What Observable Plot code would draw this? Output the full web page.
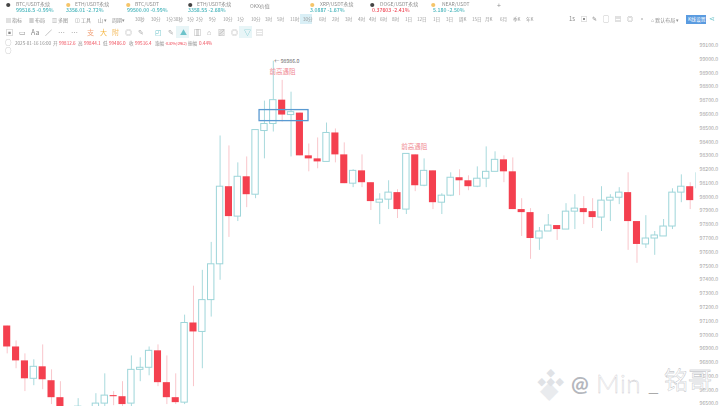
<!DOCTYPE html>
<html>
<head>
<meta charset="utf-8">
<script src="https://cdn.jsdelivr.net/npm/d3@7"></script>
<script src="https://cdn.jsdelivr.net/npm/@observablehq/plot@0.6"></script>
<style>
html,body{margin:0;padding:0;background:#fff;overflow:hidden}
#page{position:relative;width:720px;height:406px;overflow:hidden;font-family:"Noto Sans CJK SC","Noto Sans",sans-serif;filter:blur(0.3px)}
#head{height:40px}
#over{position:absolute;left:0;top:0;width:720px;height:406px;pointer-events:none}
#over span{position:absolute;white-space:nowrap;line-height:1}
#chart svg{display:block}
</style>
</head>
<body>
<div id="page">
  <div id="head"></div>
  <div id="chart"></div>
  <div id="over"></div>
</div>
<script>
const slots  = [0,1,2,3,4,5,6,8,10,11,12,13,14,15,16,17,18,19,20,21,22,23,24,25,26,27,28,29,30,31,32,33,34,35,36,37,38,39,40,41,42,43,44,45,46,47,48,49,50,51,52,53,54,55,56,57,58,59,60,61,62,63,64,65,66,67,68,69,70,71,72,73,74,75,76,77];
const opens  = [97064,96912,96811,96681,96768,96667,96544,96429,96429,96501,96559,96551,96501,96746,96761,96884,96653,96544,96508,97086,97021,97252,97512,98075,97858,98147,98017,98479,98530,98703,98595,98609,98299,98277,98255,98465,98306,98097,98190,98104,97959,97981,98032,97909,98306,98082,98190,97959,98010,98140,98118,98075,98133,98183,98270,98183,97909,97887,97699,97750,97793,97764,97894,97916,97894,97851,97974,97995,98032,97822,97656,97699,97714,97786,98032,98075];
const highs  = [97064,96956,96862,96819,96927,96746,96660,96537,96573,96717,96588,96660,96847,96833,96912,96927,96847,96717,97143,97353,97468,97671,98443,98371,98248,98291,98486,98696,98986,98847,98761,98609,98385,98429,98537,98494,98393,98198,98306,98104,98024,98118,98053,98313,98306,98277,98190,98024,98176,98198,98154,98219,98364,98328,98299,98284,97988,97916,97779,97873,97793,97952,98017,98003,97988,98075,98017,98068,98176,97822,97865,97750,97837,98060,98161,98104];
const lows   = [96862,96754,96588,96631,96602,96494,96407,96393,96393,96465,96486,96450,96465,96660,96703,96624,96494,96494,96494,96624,96754,97129,97396,97707,97822,97923,97988,98277,98472,98544,98291,98299,98183,98205,98255,98248,98097,98068,98068,97902,97800,97909,97844,97873,98039,98075,97909,97873,98003,98010,98046,98068,98068,98183,98104,97909,97714,97548,97613,97750,97685,97764,97764,97800,97772,97750,97822,97945,97613,97519,97627,97577,97714,97764,97959,97909];
const closes = [96912,96811,96681,96768,96674,96544,96450,96479,96501,96559,96551,96494,96746,96761,96884,96653,96544,96508,97086,97021,97252,97512,98075,97858,98147,98017,98486,98530,98703,98595,98616,98299,98277,98255,98465,98306,98097,98190,98104,97967,97981,98032,97909,98313,98082,98190,97959,98010,98140,98118,98075,98133,98183,98270,98183,97909,97887,97699,97750,97793,97764,97894,97916,97887,97851,97974,97995,98032,97822,97656,97699,97721,97786,98032,98075,97974];
const priceTicks = [99100,99000,98900,98800,98700,98600,98500,98400,98300,98200,98100,98000,97900,97800,97700,97600,97500,97400,97300,97200,97100,97000,96900,96800,96700,96600,96500];
const peakLabel = "← 98986.0";
const noteLabels = ["前高遇阻","前高遇阻"];
const noteSlots = [31.05,45.9];
const notePrices = [98905,98364];
const boxSlots = [28.45,33.97];
const boxPrices = [98551,98631];
const partialWick = [77.65,98176,98060];

const candles = slots.map((s,k)=>({s,o:opens[k],h:highs[k],l:lows[k],c:closes[k],up:closes[k]>=opens[k]}));
const up = candles.filter(d=>d.up), down = candles.filter(d=>!d.up);
const notes = noteLabels.map((t,k)=>({t,s:noteSlots[k],p:notePrices[k]}));
const RED="#f4404f",PINK="#f9c6cb",TEAL="#9dd5d9",TEALW="#a9dadd";

const plot = Plot.plot({
  width:720,height:366,marginLeft:0,marginRight:24,marginTop:0,marginBottom:0,
  style:{background:"#fff",fontFamily:'"Noto Sans CJK SC","Noto Sans",sans-serif'},
  x:{domain:[-0.755,77.71],axis:null},
  y:{domain:[96480,99136]},
  marks:[
    Plot.axisY(priceTicks,{anchor:"right",tickSize:0,tickPadding:3,tickFormat:d=>d.toFixed(1),fontSize:5.2,fill:"#a3a3a3",label:null}),
    Plot.ruleX(down,{x:"s",y1:"l",y2:"h",stroke:PINK,strokeWidth:1,clip:true}),
    Plot.ruleX(up,{x:"s",y1:"l",y2:"h",stroke:TEALW,strokeWidth:1,clip:true}),
    Plot.rect(up,{x1:d=>d.s-0.36,x2:d=>d.s+0.36,y1:"o",y2:"c",fill:"#fff",stroke:TEAL,strokeWidth:1,clip:true}),
    Plot.rect(down,{x1:d=>d.s-0.4,x2:d=>d.s+0.4,y1:"o",y2:"c",fill:RED,clip:true}),
    Plot.ruleX([partialWick[0]],{y1:partialWick[2],y2:partialWick[1],stroke:TEALW,clip:true}),
    Plot.rect([{}],{x1:()=>boxSlots[0],x2:()=>boxSlots[1],y1:()=>boxPrices[0],y2:()=>boxPrices[1],fill:"none",stroke:"#5a9ad2",strokeWidth:1.3}),
    Plot.text(notes,{x:"s",y:"p",text:"t",fill:"#f08a93",fontSize:6.5}),
    Plot.text([peakLabel],{x:()=>30,y:()=>98986,text:d=>d,textAnchor:"start",dx:1,fill:"#666",fontSize:5.2})
  ]
});
document.getElementById("chart").appendChild(plot);

const over=document.getElementById("over");
function put(t,x,y,size,color,extra){
  const e=document.createElement("span");e.textContent=t;
  e.style.left=x+"px";e.style.top=y+"px";e.style.fontSize=size+"px";e.style.color=color;
  if(extra)Object.assign(e.style,extra);over.appendChild(e);return e;
}
const GRAY="#8f8f8f",TK="#45b4bb",RD="#ef4a58";
const tickersA=[["BTC/USDT永续",16,"99516.5  -0.99%",16,TK],["ETH/USDT永续",75,"3356.01  -2.72%",66,TK],["BTC/USDT",135,"99500.00  -0.99%",127,TK],["ETH/USDT永续",197,"3358.55  -2.68%",188,TK],["XRP/USDT永续",320,"3.0887  -1.67%",310,TK],["DOGE/USDT永续",380,"0.37603  -2.41%",372,RD],["NEAR/USDT",442,"5.180  -2.50%",433,TK]];
tickersA.forEach(r=>{put(r[0],r[1],0.5,5,GRAY);put(r[2],r[3],6.5,5.2,r[4],{fontWeight:500});});
[[9,"#444"],[69,"#f5c56a"],[129,"#f5c56a"],[191,"#444"],[313,"#f5c56a"],[373,"#444"],[434,"#f5c56a"]].forEach(d=>put("●",d[0]-3,1.5,4.5,d[1]));
put("OKX价值",250,3,5,GRAY);put("+",497,2,7,GRAY);
[["▤ 指标",6],["▦ 布局",29],["▥ 多图",52],["◫ 工具",75],["山 ▾",98],["周期▾",112]].forEach(d=>put(d[0],d[1],16.5,5,GRAY));
const tfs=[["30秒",135],["30分",151],["1分30秒",166],["3分",187],["2分",196],["9分",209],["10分",223],["1分",237],["10分",251],["3时",265],["5时",277],["11时",290],["30分",303],["6时",319],["2时",332],["3时",345],["4时",358],["4时",369],["6时",380],["8时",392],["1日",405],["12日",417],["1日",433],["3日",446],["周K",459],["15日",472],["月K",485],["6月",500],["季K",513],["年K",526]];
put("",300,14,5,"#000",{width:"12px",height:"10px",background:"#d9eff6"});
tfs.forEach(d=>put(d[0],d[1],17,4.6,"#9a9a9a"));
[["1s",569],["▣",581],["✎",592],["▢",603],["▤",615],["◎",627],["▫",639]].forEach(d=>put(d[0],d[1],16,6,GRAY));
put("⌂ 默认布局 ▾",651,16.5,5,GRAY);
put("K线设置",686,15,4.8,"#fff",{background:"#5a9be0",padding:"2px 2px",width:"16px"});
put("⋖",709,15,7,"#6cc3ca");
put("",176,26,5,"#000",{width:"13px",height:"12px",background:"#e8f5f7"});
put("",239,26,5,"#000",{width:"13px",height:"12px",background:"#e8f5f7"});
[["▣",6,"#888"],["▭",19,"#888"],["Aa",31,"#888"],["／",45,"#888"],["⋯",58,"#888"],["⋯",71,"#888"],["支",87,"#f2a37a"],["大",100,"#f5b642"],["附",112,"#f5c06a"],["◎",125,"#aaa"],["✎",138,"#aaa"],["◰",155,"#6cc3ca"],["✎",168,"#aaa"],["▲",180,"#6cc3ca"],["▥",194,"#888"],["⌂",207,"#aaa"],["▨",218,"#aaa"],["◎",231,"#aaa"],["▽",244,"#6cc3ca"],["▤",256,"#aaa"]].forEach(d=>put(d[0],d[1],28.5,7,d[2]));
put("○",5,39,6.5,"#aaa");put("○",5,47,6.5,"#aaa");
const stats=[["2025-01-16 16:00",15,GRAY],["开",53,GRAY],["99812.6",59,RD],["高",78,GRAY],["99844.1",84,RD],["低",103,GRAY],["99406.0",109,RD],["收",129,GRAY],["99516.4",135,RD],["涨幅",155,GRAY],["振幅",188,GRAY],["0.44%",199,RD]];
stats.forEach(d=>put(d[0],d[1],40.5,4.6,d[2]));
put("-0.30%(-296.2)",165,40.5,4,RD,{letterSpacing:"-0.4px"});
// watermark
[[552,390,24],[543,381,11],[561,381,11],[552,372,11],[552,381,11]].forEach(d=>put("◆",d[0]-d[2]/2,d[1]-d[2]/2,d[2],d[2]>20?"#e9ebee":"#e0e2e6",{fontFamily:"DejaVu Sans"}));
put("@",571,372,21,"#b4b7bd",{fontFamily:"Lato",fontWeight:700});
put("Min",596,370,26,"#fff",{WebkitTextStroke:"0.35px #bfc2c8",fontFamily:"Lato",fontWeight:300,letterSpacing:"0.5px"});
put("_",648,370,24,"#aaa",{fontFamily:"Lato",fontWeight:300});
put("铭哥",664,367,24,"#fff",{WebkitTextStroke:"0.35px #b0b3b9"});
</script>
</body>
</html>
